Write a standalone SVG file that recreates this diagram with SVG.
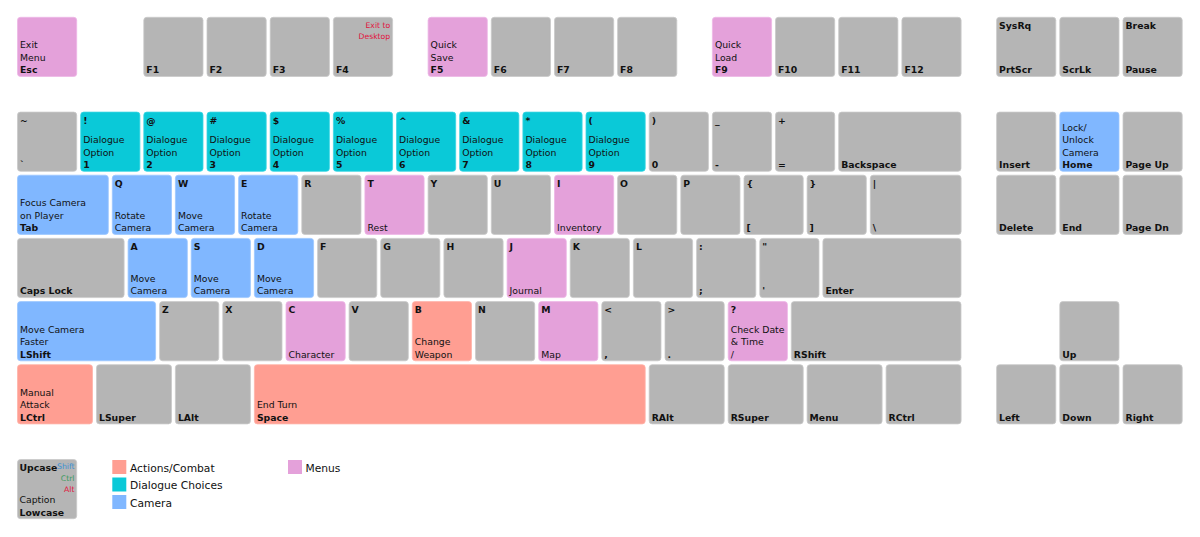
<svg xmlns="http://www.w3.org/2000/svg" width="1200" height="537" viewBox="0 0 1200 537">
<style>
rect{rx:3px;ry:3px;fill:#b5b5b5;stroke:#c9c9c9;stroke-width:0.8}
rect.m{fill:#e4a1da;stroke:#eeb6e6}
rect.d{fill:#0ac9d8;stroke:#3ad6e2}
rect.c{fill:#80b7ff;stroke:#9cc7ff}
rect.a{fill:#ff9e92;stroke:#ffb4aa}
rect.s{stroke:none;rx:0;ry:0}
text{font-family:"DejaVu Sans","Liberation Sans",sans-serif;font-size:9.3px;fill:#111}
text.b{font-weight:bold}
text.r{fill:#e0143c;font-size:7.7px;text-anchor:end}
text.sh{fill:#3a90d4;font-size:7.7px;text-anchor:end}
text.ct{fill:#3a9a5c;font-size:7.7px;text-anchor:end}
text.lg{font-size:10.7px}
</style>
<defs>
<rect id="k1" width="59.2" height="59.2"/>
</defs>
<g id="keys">
<!-- Function row y=17.3 -->
<g id="key-esc" transform="translate(17.5,17.3)"><rect class="m" width="59.2" height="59.2"/><text x="2.5" y="31.2">Exit</text><text x="2.5" y="43.6">Menu</text><text class="b" x="2.5" y="56">Esc</text></g>
<g id="key-f1" transform="translate(143.8,17.3)"><rect width="59.2" height="59.2"/><text class="b" x="2.5" y="56">F1</text></g>
<g id="key-f2" transform="translate(207,17.3)"><rect width="59.2" height="59.2"/><text class="b" x="2.5" y="56">F2</text></g>
<g id="key-f3" transform="translate(270.2,17.3)"><rect width="59.2" height="59.2"/><text class="b" x="2.5" y="56">F3</text></g>
<g id="key-f4" transform="translate(333.4,17.3)"><rect width="59.2" height="59.2"/><text class="r" x="56.8" y="11.2">Exit to</text><text class="r" x="56.8" y="21.5">Desktop</text><text class="b" x="2.5" y="56">F4</text></g>
<g id="key-f5" transform="translate(428.1,17.3)"><rect class="m" width="59.2" height="59.2"/><text x="2.5" y="31.2">Quick</text><text x="2.5" y="43.6">Save</text><text class="b" x="2.5" y="56">F5</text></g>
<g id="key-f6" transform="translate(491.3,17.3)"><rect width="59.2" height="59.2"/><text class="b" x="2.5" y="56">F6</text></g>
<g id="key-f7" transform="translate(554.5,17.3)"><rect width="59.2" height="59.2"/><text class="b" x="2.5" y="56">F7</text></g>
<g id="key-f8" transform="translate(617.6,17.3)"><rect width="59.2" height="59.2"/><text class="b" x="2.5" y="56">F8</text></g>
<g id="key-f9" transform="translate(712.4,17.3)"><rect class="m" width="59.2" height="59.2"/><text x="2.5" y="31.2">Quick</text><text x="2.5" y="43.6">Load</text><text class="b" x="2.5" y="56">F9</text></g>
<g id="key-f10" transform="translate(775.5,17.3)"><rect width="59.2" height="59.2"/><text class="b" x="2.5" y="56">F10</text></g>
<g id="key-f11" transform="translate(838.7,17.3)"><rect width="59.2" height="59.2"/><text class="b" x="2.5" y="56">F11</text></g>
<g id="key-f12" transform="translate(901.9,17.3)"><rect width="59.2" height="59.2"/><text class="b" x="2.5" y="56">F12</text></g>
<g id="key-prtscr" transform="translate(996.6,17.3)"><rect width="59.2" height="59.2"/><text class="b" x="2.5" y="11.5">SysRq</text><text class="b" x="2.5" y="56">PrtScr</text></g>
<g id="key-scrlk" transform="translate(1059.8,17.3)"><rect width="59.2" height="59.2"/><text class="b" x="2.5" y="56">ScrLk</text></g>
<g id="key-pause" transform="translate(1123,17.3)"><rect width="59.2" height="59.2"/><text class="b" x="2.5" y="11.5">Break</text><text class="b" x="2.5" y="56">Pause</text></g>

<!-- Number row y=112.1 -->
<g id="key-tilde" transform="translate(17.5,112.1)"><rect width="59.2" height="59.2"/><text class="b" x="2.5" y="11.5">~</text><text class="b" x="2.5" y="56">`</text></g>
<g id="key-1" transform="translate(80.7,112.1)"><rect class="d" width="59.2" height="59.2"/><text class="b" x="2.5" y="11.5">!</text><text x="2.5" y="31.2">Dialogue</text><text x="2.5" y="43.6">Option</text><text class="b" x="2.5" y="56">1</text></g>
<g id="key-2" transform="translate(143.8,112.1)"><rect class="d" width="59.2" height="59.2"/><text class="b" x="2.5" y="11.5">@</text><text x="2.5" y="31.2">Dialogue</text><text x="2.5" y="43.6">Option</text><text class="b" x="2.5" y="56">2</text></g>
<g id="key-3" transform="translate(207,112.1)"><rect class="d" width="59.2" height="59.2"/><text class="b" x="2.5" y="11.5">#</text><text x="2.5" y="31.2">Dialogue</text><text x="2.5" y="43.6">Option</text><text class="b" x="2.5" y="56">3</text></g>
<g id="key-4" transform="translate(270.2,112.1)"><rect class="d" width="59.2" height="59.2"/><text class="b" x="2.5" y="11.5">$</text><text x="2.5" y="31.2">Dialogue</text><text x="2.5" y="43.6">Option</text><text class="b" x="2.5" y="56">4</text></g>
<g id="key-5" transform="translate(333.4,112.1)"><rect class="d" width="59.2" height="59.2"/><text class="b" x="2.5" y="11.5">%</text><text x="2.5" y="31.2">Dialogue</text><text x="2.5" y="43.6">Option</text><text class="b" x="2.5" y="56">5</text></g>
<g id="key-6" transform="translate(396.5,112.1)"><rect class="d" width="59.2" height="59.2"/><text class="b" x="2.5" y="11.5">^</text><text x="2.5" y="31.2">Dialogue</text><text x="2.5" y="43.6">Option</text><text class="b" x="2.5" y="56">6</text></g>
<g id="key-7" transform="translate(459.7,112.1)"><rect class="d" width="59.2" height="59.2"/><text class="b" x="2.5" y="11.5">&amp;</text><text x="2.5" y="31.2">Dialogue</text><text x="2.5" y="43.6">Option</text><text class="b" x="2.5" y="56">7</text></g>
<g id="key-8" transform="translate(522.9,112.1)"><rect class="d" width="59.2" height="59.2"/><text class="b" x="2.5" y="11.5">*</text><text x="2.5" y="31.2">Dialogue</text><text x="2.5" y="43.6">Option</text><text class="b" x="2.5" y="56">8</text></g>
<g id="key-9" transform="translate(586,112.1)"><rect class="d" width="59.2" height="59.2"/><text class="b" x="2.5" y="11.5">(</text><text x="2.5" y="31.2">Dialogue</text><text x="2.5" y="43.6">Option</text><text class="b" x="2.5" y="56">9</text></g>
<g id="key-0" transform="translate(649.2,112.1)"><rect width="59.2" height="59.2"/><text class="b" x="2.5" y="11.5">)</text><text class="b" x="2.5" y="56">0</text></g>
<g id="key-minus" transform="translate(712.4,112.1)"><rect width="59.2" height="59.2"/><text class="b" x="2.5" y="11.5">_</text><text class="b" x="2.5" y="56">-</text></g>
<g id="key-equals" transform="translate(775.5,112.1)"><rect width="59.2" height="59.2"/><text class="b" x="2.5" y="11.5">+</text><text class="b" x="2.5" y="56">=</text></g>
<g id="key-backspace" transform="translate(838.7,112.1)"><rect width="122.3" height="59.2"/><text class="b" x="2.5" y="56">Backspace</text></g>
<g id="key-insert" transform="translate(996.6,112.1)"><rect width="59.2" height="59.2"/><text class="b" x="2.5" y="56">Insert</text></g>
<g id="key-home" transform="translate(1059.8,112.1)"><rect class="c" width="59.2" height="59.2"/><text x="2.5" y="18.8">Lock/</text><text x="2.5" y="31.2">Unlock</text><text x="2.5" y="43.6">Camera</text><text class="b" x="2.5" y="56">Home</text></g>
<g id="key-pageup" transform="translate(1123,112.1)"><rect width="59.2" height="59.2"/><text class="b" x="2.5" y="56">Page Up</text></g>

<!-- Tab row y=175.2 -->
<g id="key-tab" transform="translate(17.5,175.2)"><rect class="c" width="90.8" height="59.2"/><text x="2.5" y="31.2">Focus Camera</text><text x="2.5" y="43.6">on Player</text><text class="b" x="2.5" y="56">Tab</text></g>
<g id="key-q" transform="translate(112.3,175.2)"><rect class="c" width="59.2" height="59.2"/><text class="b" x="2.5" y="11.5">Q</text><text x="2.5" y="43.6">Rotate</text><text x="2.5" y="56">Camera</text></g>
<g id="key-w" transform="translate(175.4,175.2)"><rect class="c" width="59.2" height="59.2"/><text class="b" x="2.5" y="11.5">W</text><text x="2.5" y="43.6">Move</text><text x="2.5" y="56">Camera</text></g>
<g id="key-e" transform="translate(238.6,175.2)"><rect class="c" width="59.2" height="59.2"/><text class="b" x="2.5" y="11.5">E</text><text x="2.5" y="43.6">Rotate</text><text x="2.5" y="56">Camera</text></g>
<g id="key-r" transform="translate(301.8,175.2)"><rect width="59.2" height="59.2"/><text class="b" x="2.5" y="11.5">R</text></g>
<g id="key-t" transform="translate(364.9,175.2)"><rect class="m" width="59.2" height="59.2"/><text class="b" x="2.5" y="11.5">T</text><text x="2.5" y="56">Rest</text></g>
<g id="key-y" transform="translate(428.1,175.2)"><rect width="59.2" height="59.2"/><text class="b" x="2.5" y="11.5">Y</text></g>
<g id="key-u" transform="translate(491.3,175.2)"><rect width="59.2" height="59.2"/><text class="b" x="2.5" y="11.5">U</text></g>
<g id="key-i" transform="translate(554.5,175.2)"><rect class="m" width="59.2" height="59.2"/><text class="b" x="2.5" y="11.5">I</text><text x="2.5" y="56">Inventory</text></g>
<g id="key-o" transform="translate(617.6,175.2)"><rect width="59.2" height="59.2"/><text class="b" x="2.5" y="11.5">O</text></g>
<g id="key-p" transform="translate(680.8,175.2)"><rect width="59.2" height="59.2"/><text class="b" x="2.5" y="11.5">P</text></g>
<g id="key-lbracket" transform="translate(744,175.2)"><rect width="59.2" height="59.2"/><text class="b" x="2.5" y="11.5">{</text><text class="b" x="2.5" y="56">[</text></g>
<g id="key-rbracket" transform="translate(807.1,175.2)"><rect width="59.2" height="59.2"/><text class="b" x="2.5" y="11.5">}</text><text class="b" x="2.5" y="56">]</text></g>
<g id="key-backslash" transform="translate(870.3,175.2)"><rect width="90.8" height="59.2"/><text class="b" x="2.5" y="11.5">|</text><text class="b" x="2.5" y="56">\</text></g>
<g id="key-delete" transform="translate(996.6,175.2)"><rect width="59.2" height="59.2"/><text class="b" x="2.5" y="56">Delete</text></g>
<g id="key-end" transform="translate(1059.8,175.2)"><rect width="59.2" height="59.2"/><text class="b" x="2.5" y="56">End</text></g>
<g id="key-pagedn" transform="translate(1123,175.2)"><rect width="59.2" height="59.2"/><text class="b" x="2.5" y="56">Page Dn</text></g>

<!-- Caps row y=238.4 -->
<g id="key-caps" transform="translate(17.5,238.4)"><rect width="106.6" height="59.2"/><text class="b" x="2.5" y="56">Caps Lock</text></g>
<g id="key-a" transform="translate(128.1,238.4)"><rect class="c" width="59.2" height="59.2"/><text class="b" x="2.5" y="11.5">A</text><text x="2.5" y="43.6">Move</text><text x="2.5" y="56">Camera</text></g>
<g id="key-s" transform="translate(191.2,238.4)"><rect class="c" width="59.2" height="59.2"/><text class="b" x="2.5" y="11.5">S</text><text x="2.5" y="43.6">Move</text><text x="2.5" y="56">Camera</text></g>
<g id="key-d" transform="translate(254.4,238.4)"><rect class="c" width="59.2" height="59.2"/><text class="b" x="2.5" y="11.5">D</text><text x="2.5" y="43.6">Move</text><text x="2.5" y="56">Camera</text></g>
<g id="key-f" transform="translate(317.6,238.4)"><rect width="59.2" height="59.2"/><text class="b" x="2.5" y="11.5">F</text></g>
<g id="key-g" transform="translate(380.7,238.4)"><rect width="59.2" height="59.2"/><text class="b" x="2.5" y="11.5">G</text></g>
<g id="key-h" transform="translate(443.9,238.4)"><rect width="59.2" height="59.2"/><text class="b" x="2.5" y="11.5">H</text></g>
<g id="key-j" transform="translate(507.1,238.4)"><rect class="m" width="59.2" height="59.2"/><text class="b" x="2.5" y="11.5">J</text><text x="2.5" y="56">Journal</text></g>
<g id="key-k" transform="translate(570.2,238.4)"><rect width="59.2" height="59.2"/><text class="b" x="2.5" y="11.5">K</text></g>
<g id="key-l" transform="translate(633.4,238.4)"><rect width="59.2" height="59.2"/><text class="b" x="2.5" y="11.5">L</text></g>
<g id="key-semicolon" transform="translate(696.6,238.4)"><rect width="59.2" height="59.2"/><text class="b" x="2.5" y="11.5">:</text><text class="b" x="2.5" y="56">;</text></g>
<g id="key-quote" transform="translate(759.8,238.4)"><rect width="59.2" height="59.2"/><text class="b" x="2.5" y="11.5">"</text><text class="b" x="2.5" y="56">'</text></g>
<g id="key-enter" transform="translate(822.9,238.4)"><rect width="138.1" height="59.2"/><text class="b" x="2.5" y="56">Enter</text></g>

<!-- Shift row y=301.6 -->
<g id="key-lshift" transform="translate(17.5,301.6)"><rect class="c" width="138.1" height="59.2"/><text x="2.5" y="31.2">Move Camera</text><text x="2.5" y="43.6">Faster</text><text class="b" x="2.5" y="56">LShift</text></g>
<g id="key-z" transform="translate(159.6,301.6)"><rect width="59.2" height="59.2"/><text class="b" x="2.5" y="11.5">Z</text></g>
<g id="key-x" transform="translate(222.8,301.6)"><rect width="59.2" height="59.2"/><text class="b" x="2.5" y="11.5">X</text></g>
<g id="key-c" transform="translate(286,301.6)"><rect class="m" width="59.2" height="59.2"/><text class="b" x="2.5" y="11.5">C</text><text x="2.5" y="56">Character</text></g>
<g id="key-v" transform="translate(349.1,301.6)"><rect width="59.2" height="59.2"/><text class="b" x="2.5" y="11.5">V</text></g>
<g id="key-b" transform="translate(412.3,301.6)"><rect class="a" width="59.2" height="59.2"/><text class="b" x="2.5" y="11.5">B</text><text x="2.5" y="43.6">Change</text><text x="2.5" y="56">Weapon</text></g>
<g id="key-n" transform="translate(475.5,301.6)"><rect width="59.2" height="59.2"/><text class="b" x="2.5" y="11.5">N</text></g>
<g id="key-m" transform="translate(538.7,301.6)"><rect class="m" width="59.2" height="59.2"/><text class="b" x="2.5" y="11.5">M</text><text x="2.5" y="56">Map</text></g>
<g id="key-comma" transform="translate(601.8,301.6)"><rect width="59.2" height="59.2"/><text class="b" x="2.5" y="11.5">&lt;</text><text class="b" x="2.5" y="56">,</text></g>
<g id="key-period" transform="translate(665,301.6)"><rect width="59.2" height="59.2"/><text class="b" x="2.5" y="11.5">&gt;</text><text class="b" x="2.5" y="56">.</text></g>
<g id="key-slash" transform="translate(728.2,301.6)"><rect class="m" width="59.2" height="59.2"/><text class="b" x="2.5" y="11.5">?</text><text x="2.5" y="31.2">Check Date</text><text x="2.5" y="43.6">&amp; Time</text><text x="2.5" y="56">/</text></g>
<g id="key-rshift" transform="translate(791.3,301.6)"><rect width="169.7" height="59.2"/><text class="b" x="2.5" y="56">RShift</text></g>
<g id="key-up" transform="translate(1059.8,301.6)"><rect width="59.2" height="59.2"/><text class="b" x="2.5" y="56">Up</text></g>

<!-- Ctrl row y=364.7 -->
<g id="key-lctrl" transform="translate(17.5,364.7)"><rect class="a" width="75" height="59.2"/><text x="2.5" y="31.2">Manual</text><text x="2.5" y="43.6">Attack</text><text class="b" x="2.5" y="56">LCtrl</text></g>
<g id="key-lsuper" transform="translate(96.5,364.7)"><rect width="75" height="59.2"/><text class="b" x="2.5" y="56">LSuper</text></g>
<g id="key-lalt" transform="translate(175.4,364.7)"><rect width="75" height="59.2"/><text class="b" x="2.5" y="56">LAlt</text></g>
<g id="key-space" transform="translate(254.4,364.7)"><rect class="a" width="390.8" height="59.2"/><text x="2.5" y="43.6">End Turn</text><text class="b" x="2.5" y="56">Space</text></g>
<g id="key-ralt" transform="translate(649.2,364.7)"><rect width="75" height="59.2"/><text class="b" x="2.5" y="56">RAlt</text></g>
<g id="key-rsuper" transform="translate(728.2,364.7)"><rect width="75" height="59.2"/><text class="b" x="2.5" y="56">RSuper</text></g>
<g id="key-menu" transform="translate(807.1,364.7)"><rect width="75" height="59.2"/><text class="b" x="2.5" y="56">Menu</text></g>
<g id="key-rctrl" transform="translate(886.1,364.7)"><rect width="75" height="59.2"/><text class="b" x="2.5" y="56">RCtrl</text></g>
<g id="key-left" transform="translate(996.6,364.7)"><rect width="59.2" height="59.2"/><text class="b" x="2.5" y="56">Left</text></g>
<g id="key-down" transform="translate(1059.8,364.7)"><rect width="59.2" height="59.2"/><text class="b" x="2.5" y="56">Down</text></g>
<g id="key-right" transform="translate(1123,364.7)"><rect width="59.2" height="59.2"/><text class="b" x="2.5" y="56">Right</text></g>
</g>

<g id="legend">
<g id="legend-key" transform="translate(17.5,459.5)"><rect width="59.2" height="59.2"/><text class="b" x="2" y="11.5">Upcase</text><text class="sh" x="57" y="9">Shift</text><text class="ct" x="57" y="21.6">Ctrl</text><text class="r" x="57" y="32.3">Alt</text><text x="2" y="43.6">Caption</text><text class="b" x="2" y="56">Lowcase</text></g>
<g id="legend-actions"><rect class="a s" x="112.3" y="460" width="14" height="14"/><text class="lg" x="130" y="471.5">Actions/Combat</text></g>
<g id="legend-dialogue"><rect class="d s" x="112.3" y="477.5" width="14" height="14"/><text class="lg" x="130" y="489">Dialogue Choices</text></g>
<g id="legend-camera"><rect class="c s" x="112.3" y="495" width="14" height="14"/><text class="lg" x="130" y="506.5">Camera</text></g>
<g id="legend-menus"><rect class="m s" x="288" y="460" width="14" height="14"/><text class="lg" x="305.5" y="471.5">Menus</text></g>
</g>
</svg>
